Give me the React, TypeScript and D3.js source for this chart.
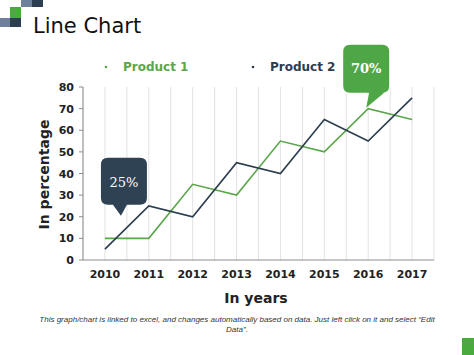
import React from "react";
import * as d3 from "d3";

const years = ["2010", "2011", "2012", "2013", "2014", "2015", "2016", "2017"];
const product1 = [10, 10, 35, 30, 55, 50, 70, 65];
const product2 = [5, 25, 20, 45, 40, 65, 55, 75];
const yTicks = [0, 10, 20, 30, 40, 50, 60, 70, 80];
const seriesNames = ["Product 1", "Product 2"];

const GREEN = "#5aa64b";
const DARK = "#2c3d4f";

function bubblePath(x: number, y: number, w: number, h: number, r: number, t1: number, t2: number, tx: number, ty: number) {
  const b = y + h;
  return [
    `M${x + r},${y}`,
    `H${x + w - r}`,
    `Q${x + w},${y} ${x + w},${y + r}`,
    `V${b - r}`,
    `Q${x + w},${b} ${x + w - r},${b}`,
    `H${t2}`,
    `L${tx},${ty}`,
    `L${t1},${b}`,
    `H${x + r}`,
    `Q${x},${b} ${x},${b - r}`,
    `V${y + r}`,
    `Q${x},${y} ${x + r},${y}`,
    "Z",
  ].join(" ");
}

export default function App() {
  const W = 474, H = 355;
  const x = d3.scaleBand<string>().domain(years).range([83, 434]).padding(0);
  const bw = x.bandwidth();
  const xc = (yr: string) => (x(yr) as number) + bw / 2;
  const y = d3.scaleLinear().domain([0, 80]).range([260, 87]);

  const line = d3
    .line<number>()
    .x((_, i) => xc(years[i]))
    .y((d) => y(d));

  const grid: number[] = [];
  years.forEach((yr) => {
    grid.push(x(yr) as number);
    grid.push(xc(yr));
  });
  grid.push(434);

  const sans = "DejaVu Sans, Verdana, sans-serif";

  const t70x = xc("2016") - 2, t70y = y(70) - 1;
  const b70 = { x: t70x - 23, y: t70y - 63, w: 46, h: 48 };
  const t25x = xc("2010") + 16, t25y = y(20.5);
  const b25 = { x: t25x - 20, y: t25y - 58, w: 46, h: 47 };

  return (
    <div style={{ position: "absolute", left: 0, top: 0 }}>
      <svg width={W} height={H} style={{ display: "block", background: "#fff" }}>
        <rect x={21} y={0} width={11} height={7} fill="#6e809b" />
        <rect x={32} y={0} width={11} height={7} fill="#2e3e51" />
        <rect x={10} y={7} width={11} height={11} fill="#4aaa3e" />
        <rect x={0} y={18} width={10} height={9} fill="#6e809b" />
        <rect x={10} y={18} width={11} height={9} fill="#2e3e51" />
        <text x={33} y={33} fontFamily={sans} fontSize={21} fill="#111">
          Line Chart
        </text>

        <circle cx={106} cy={67} r={1.3} fill={GREEN} />
        <text x={123} y={71} fontFamily={sans} fontSize={12} fontWeight="bold" fill={GREEN}>
          {seriesNames[0]}
        </text>
        <circle cx={253} cy={67} r={1.3} fill={DARK} />
        <text x={270} y={71} fontFamily={sans} fontSize={12} fontWeight="bold" fill={DARK}>
          {seriesNames[1]}
        </text>

        {grid.map((gx, i) => (
          <line key={i} x1={gx} x2={gx} y1={y(80)} y2={y(0)} stroke="#e2e2e2" strokeWidth={1} />
        ))}

        <line x1={83} x2={83} y1={y(80)} y2={y(0)} stroke="#8c8c8c" />
        <line x1={83} x2={434} y1={y(0)} y2={y(0)} stroke="#8c8c8c" />
        {yTicks.map((t) => (
          <g key={t}>
            <line x1={79} x2={83} y1={y(t)} y2={y(t)} stroke="#8c8c8c" />
            <text x={74} y={y(t) + 4} textAnchor="end" fontFamily={sans} fontSize={11} fontWeight="bold" fill="#222">
              {t}
            </text>
          </g>
        ))}
        {years.map((yr) => (
          <text key={yr} x={xc(yr)} y={278} textAnchor="middle" fontFamily={sans} fontSize={11} fontWeight="bold" fill="#222">
            {yr}
          </text>
        ))}
        <text x={256} y={303} textAnchor="middle" fontFamily={sans} fontSize={14} fontWeight="bold" fill="#222">
          In years
        </text>
        <text
          transform={`translate(49,${y(40) + 1}) rotate(-90)`}
          textAnchor="middle"
          fontFamily={sans}
          fontSize={14}
          fontWeight="bold"
          fill="#222"
        >
          In percentage
        </text>

        <path d={line(product1) || ""} fill="none" stroke={GREEN} strokeWidth={1.6} />
        <path d={line(product2) || ""} fill="none" stroke={DARK} strokeWidth={1.6} />

        <path
          d={bubblePath(b25.x, b25.y, b25.w, b25.h, 7, t25x - 8, t25x + 6, t25x, t25y)}
          fill="#2f4254"
        />
        <text x={b25.x + b25.w / 2} y={b25.y + 29} textAnchor="middle" fontFamily="DejaVu Serif, serif" fontSize={13} fill="#fff">
          25%
        </text>
        <path
          d={bubblePath(b70.x, b70.y, b70.w, b70.h, 7, t70x + 3, t70x + 18, t70x, t70y)}
          fill="#4fa646"
        />
        <text x={b70.x + b70.w / 2} y={b70.y + 28} textAnchor="middle" fontFamily="DejaVu Serif, serif" fontSize={13} fontWeight="bold" fill="#fff">
          70%
        </text>

        <text x={237} y={322} textAnchor="middle" fontFamily="Liberation Sans, Arial, sans-serif" fontStyle="italic" fontSize={8} fill="#333">
          This graph/chart is linked to excel, and changes automatically based on data. Just left click on it and select “Edit
        </text>
        <text x={237} y={332} textAnchor="middle" fontFamily="Liberation Sans, Arial, sans-serif" fontStyle="italic" fontSize={8} fill="#333">
          Data”.
        </text>
        <rect x={462} y={338} width={12} height={17} fill="#4aaa3e" />
      </svg>
    </div>
  );
}
